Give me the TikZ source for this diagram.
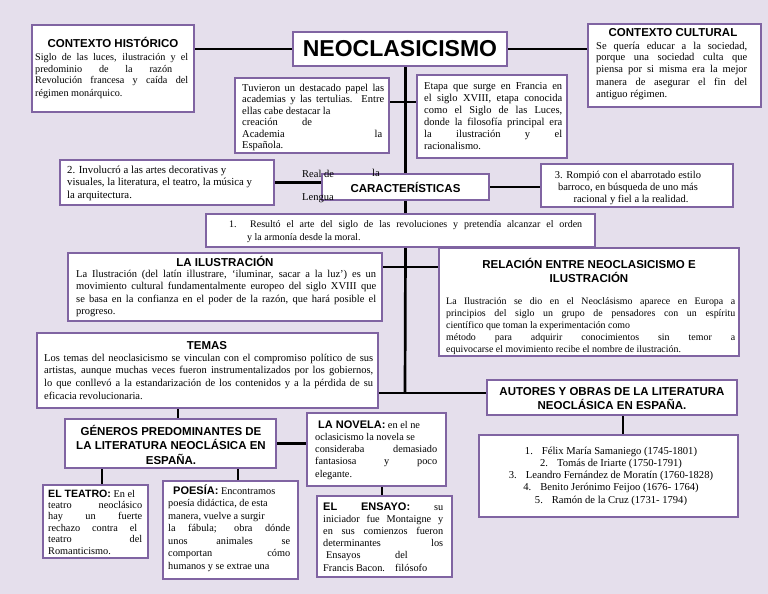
\documentclass[tikz,border=0pt]{standalone}
\usepackage{fontspec}
\setmainfont{Liberation Serif}
\setsansfont{Liberation Sans}
\definecolor{bgc}{RGB}{229,223,236}
\definecolor{bdc}{RGB}{128,100,162}
\newcommand\J[1]{\makebox[\linewidth][s]{#1}}
\newcommand\JW[2]{\makebox[#1][s]{#2}}
\newcommand\HD{\fontsize{11.5}{14}\selectfont\sffamily\bfseries}
\newcommand\IH{\fontsize{11}{12}\selectfont\sffamily\bfseries}
\newcommand\BD{\fontsize{10.5}{12}\selectfont}
\pgfdeclarelayer{back}
\pgfsetlayers{back,main}
\begin{document}
\begin{tikzpicture}[x=1pt,y=-1pt,
  box/.style={draw=bdc, line width=2pt, fill=white, anchor=north west, inner sep=0pt, outer sep=0pt},
  hd/.style={font=\HD, inner sep=0pt, anchor=base},
  txt/.style={font=\BD, inner sep=0pt, anchor=base west},
  conn/.style={line width=2.7pt, black}]
\useasboundingbox (0,0) rectangle (768,594);
\begin{pgfonlayer}{back}
\fill[bgc] (0,0) rectangle (768,594);
\end{pgfonlayer}

% ---- boxes ----
\node[box, minimum width=162, minimum height=87] (ch) at (32,25) {};
\node[box, minimum width=214, minimum height=34, anchor=center, font=\fontsize{23}{28}\selectfont\sffamily\bfseries] (neo) at (400,49) {NEOCLASICISMO};
\node[box, minimum width=173, minimum height=83] (cc) at (588,24) {};
\node[box, minimum width=154, minimum height=75] (tuv) at (235,78) {};
\node[box, minimum width=150, minimum height=83] (eta) at (417,75) {};
\node[box, minimum width=214, minimum height=45] (inv) at (60,160) {};
\node[box, minimum width=167, minimum height=26, anchor=center, font=\HD] (carac) at (405.5,187) {CARACTERÍSTICAS};
\node[box, minimum width=192, minimum height=43] (rom) at (541,164) {};
\node[box, minimum width=389, minimum height=33] (res) at (206,214) {};
\node[box, minimum width=314, minimum height=68] (ilu) at (68,253) {};
\node[box, minimum width=300, minimum height=108] (rel) at (439,248) {};
\node[box, minimum width=341, minimum height=75] (tem) at (37,333) {};
\node[box, minimum width=250, minimum height=35] (aut) at (487,380) {};
\node[box, minimum width=259, minimum height=82] (lst) at (479,435) {};
\node[box, minimum width=211, minimum height=49] (gen) at (65,419) {};
\node[box, minimum width=139, minimum height=73] (nov) at (307,413) {};
\node[box, minimum width=105, minimum height=73] (tea) at (43,485) {};
\node[box, minimum width=135, minimum height=98] (poe) at (163,481) {};
\node[box, minimum width=135, minimum height=81] (ens) at (317,496) {};

% ---- connectors ----
\coordinate (h1) at (405,102);
\coordinate (h3) at (405,267);
\coordinate (h4) at (405,393);
\coordinate (v1) at (623,0);
\coordinate (v2) at (178,0);
\coordinate (v3) at (102,0);
\coordinate (v4) at (238,0);
\coordinate (v5) at (382,0);
\begin{pgfonlayer}{back}
\draw[conn] (neo.west) -- (neo.west -| ch.east);
\draw[conn] (neo.east) -- (neo.east -| cc.west);
\draw[conn] (neo.south -| carac.north) -- (carac.north);
\draw[conn] (h1 -| tuv.east) -- (h1 -| eta.west);
\draw[conn] (inv.east) -- (inv.east -| carac.west);
\draw[conn] (carac.east) -- (carac.east -| rom.west);
\draw[conn] (carac.south) -- (carac.south |- res.north);
\draw[conn] (carac.south |- res.south) -- (h4);
\draw[conn] (h3 -| ilu.east) -- (h3 -| rel.west);
\draw[conn] (h4 -| tem.east) -- (h4 -| aut.west);
\draw[conn] (v1 |- aut.south) -- (v1 |- lst.north);
\draw[conn] (v2 |- tem.south) -- (v2 |- gen.north);
\draw[conn] (gen.east) -- (gen.east -| nov.west);
\draw[conn] (v3 |- gen.south) -- (v3 |- tea.north);
\draw[conn] (v4 |- gen.south) -- (v4 |- poe.north);
\draw[conn] (v5 |- nov.south) -- (v5 |- ens.north);
\end{pgfonlayer}

% ---- texts ----
\node[hd] (chH) at (113,48) {CONTEXTO HISTÓRICO};
\node[txt] (chT) at (35,60) {\parbox[t]{153pt}{\fontsize{10.2}{12}\selectfont
\J{Siglo de las luces, ilustración y  el}\\
\JW{137pt}{predominio de la razón}\\
\J{Revolución francesa y caída del}\\
régimen monárquico.}};

\node[hd] (ccH) at (673,37) {CONTEXTO CULTURAL};
\node[txt] (ccT) at (596,49) {\parbox[t]{151pt}{%
\J{Se quería educar a la sociedad,}\\
\J{porque una sociedad culta que}\\
\J{piensa por si misma era la mejor}\\
\J{manera de asegurar el fin del}\\
antiguo régimen.}};

\node[txt] (tuvT) at (242,91) {\parbox[t]{142pt}{\fontsize{10.5}{11.6}\selectfont
\J{Tuvieron un destacado papel  las}\\
\J{academias y las tertulias.  Entre}\\
ellas cabe destacar la\\
\makebox[60pt][l]{creación}de\\
\JW{140pt}{Academia la}\\
Española.}};

\node[txt] (etaT) at (424,89) {\parbox[t]{138pt}{%
\J{Etapa que surge en Francia  en}\\
\J{el siglo XVIII, etapa  conocida}\\
\J{como el Siglo de  las Luces,}\\
\J{donde la filosofía  principal era}\\
\J{la ilustración y el}\\
racionalismo.}};

\node[txt] (invT) at (67,173) {\parbox[t]{205pt}{\fontsize{10.8}{12.5}\selectfont
2. Involucró a las artes decorativas y\\
visuales, la literatura, el teatro, la música  y\\
la arquitectura.}};

\node[txt] (rl1) at (302,177) {Real de};
\node[txt] (rl2) at (372,176) {la};
\node[txt] (rl3) at (302,200) {Lengua};

\node[txt, anchor=base] (romT) at (628,178) {\parbox[t]{185pt}{\centering\fontsize{10.5}{12.3}\selectfont
3. Rompió con el abarrotado estilo\\
barroco, en búsqueda de uno más\\
\hspace*{6pt}racional y fiel a la realidad.}};

\node[txt] (resT) at (229,227) {\parbox[t]{353pt}{\fontsize{10}{13}\selectfont
\J{1.  Resultó el arte del siglo de las revoluciones y pretendía alcanzar el orden}\\
\hspace*{18pt}y la armonía desde la moral.}};

\node[hd] (iluH) at (225,266) {LA ILUSTRACIÓN};
\node[txt] (iluT) at (76,277) {\parbox[t]{300pt}{\fontsize{10.5}{12.5}\selectfont
\J{La Ilustración (del latín illustrare, ‘iluminar,  sacar a la luz’)  es  un}\\
\J{movimiento cultural fundamentalmente europeo del siglo  XVIII que}\\
\J{se basa en la confianza en el poder de la razón, que  hará posible el}\\
progreso.}};

\node[hd] (relH) at (589,268) {\parbox[t]{290pt}{\centering RELACIÓN ENTRE NEOCLASICISMO E\\ ILUSTRACIÓN}};
\node[txt] (relT) at (446,304) {\parbox[t]{289pt}{\fontsize{9.9}{12}\selectfont
\J{La Ilustración se dio en el Neoclásismo aparece en Europa  a}\\
\J{principios del siglo un grupo de pensadores  con un  espíritu}\\
científico que toman la experimentación como\\
\J{método para adquirir conocimientos sin temor a}\\
equivocarse el movimiento recibe el nombre de ilustración.}};

\node[hd] (temH) at (207,349) {TEMAS};
\node[txt] (temT) at (44,361) {\parbox[t]{329pt}{\fontsize{10.5}{12.7}\selectfont
\J{Los temas del neoclasicismo se vinculan con el compromiso político  de sus}\\
\J{artistas, aunque muchas veces fueron instrumentalizados por  los gobiernos,}\\
\J{lo que conllevó a la estandarización de los contenidos  y a la pérdida de su}\\
eficacia revolucionaria.}};

\node[hd] (autH) at (612,395) {\parbox[t]{240pt}{\centering AUTORES Y OBRAS DE LA LITERATURA\\ NEOCLÁSICA EN ESPAÑA.}};

\node[txt, anchor=base] (lstT) at (611,454) {\parbox[t]{250pt}{\centering\fontsize{10.6}{12.3}\selectfont
1.\hspace{9pt}Félix María Samaniego (1745-1801)\\
2.\hspace{9pt}Tomás de Iriarte (1750-1791)\\
3.\hspace{9pt}Leandro Fernández de Moratín (1760-1828)\\
4.\hspace{9pt}Benito Jerónimo Feijoo (1676- 1764)\\
5.\hspace{9pt}Ramón de la Cruz (1731- 1794)}};

\node[hd] (genH) at (171,435) {\parbox[t]{205pt}{\centering\fontsize{11.5}{14.5}\selectfont GÉNEROS PREDOMINANTES DE\\ LA LITERATURA NEOCLÁSICA EN\\ ESPAÑA.}};

\node[txt] (novT) at (315,428) {\parbox[t]{122pt}{\fontsize{10.3}{12.3}\selectfont
\hspace*{3pt}{\IH LA NOVELA:} en el ne\\
oclasicismo la novela se\\
\J{consideraba demasiado}\\
\J{fantasiosa y poco}\\
elegante.}};

\node[txt] (teaT) at (48,497) {\parbox[t]{94pt}{\fontsize{10.3}{11.4}\selectfont
{\fontsize{10.6}{12}\selectfont\sffamily\bfseries EL TEATRO:} En el\\
\J{teatro neoclásico}\\
\J{hay un fuerte}\\
\JW{89pt}{rechazo contra el}\\
\J{teatro del}\\
Romanticismo.}};

\node[txt] (poeT) at (168,494) {\parbox[t]{122pt}{\fontsize{10.3}{12.5}\selectfont
\hspace*{5pt}{\IH POESÍA:} Encontramos\\
poesía didáctica, de esta\\
manera, vuelve a surgir\\
\J{la fábula; obra dónde}\\
\J{unos animales se}\\
\J{comportan cómo}\\
humanos y se extrae una}};

\node[txt] (ensT) at (323,510) {\parbox[t]{120pt}{\fontsize{10.3}{12.2}\selectfont
\J{{\IH EL} {\IH ENSAYO:} su}\\
\J{iniciador fue Montaigne y}\\
\J{en sus comienzos fueron}\\
\J{determinantes los}\\
\hspace*{3pt}\makebox[69pt][l]{Ensayos}del\\
\makebox[72pt][l]{Francis Bacon.}filósofo}};
\end{tikzpicture}
\end{document}
